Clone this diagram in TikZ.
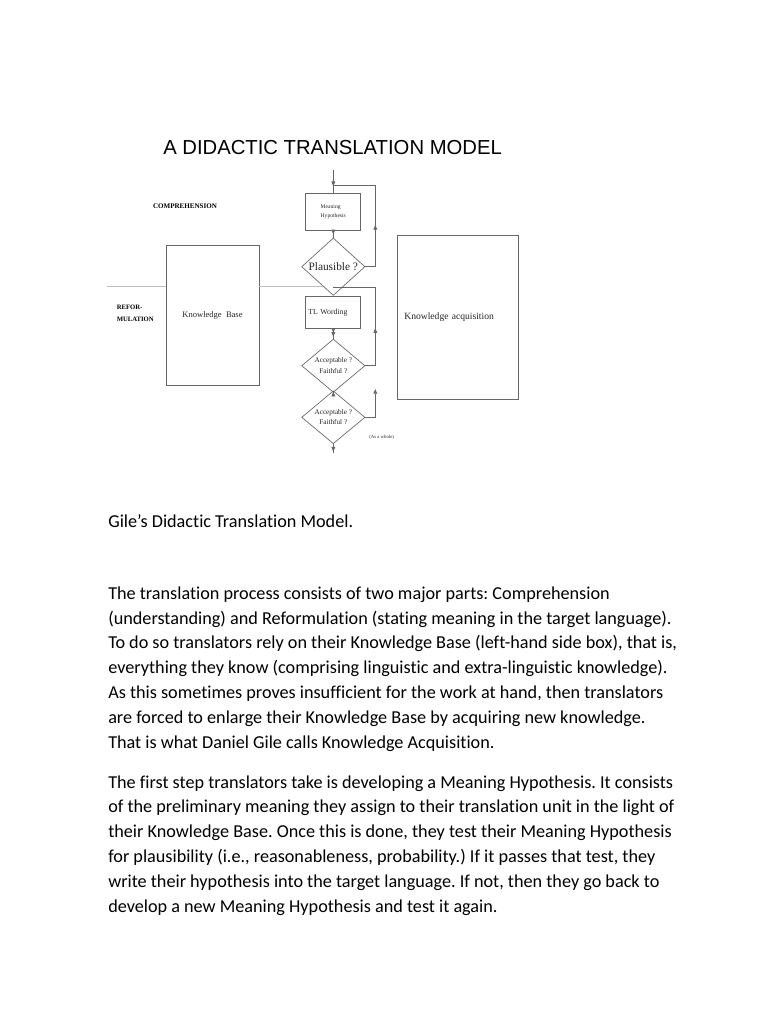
\documentclass[tikz,border=0pt]{standalone}
\usepackage{fontspec}
\setmainfont{Liberation Serif}
\newfontfamily\bodyfont[Ligatures=NoCommon]{Carlito}
\newfontfamily\headfont{Liberation Sans}
\usetikzlibrary{arrows.meta, positioning, shapes.geometric, decorations.markings}
\frenchspacing

\begin{document}
\begin{tikzpicture}[
    x=0.75pt, y=-0.75pt,
    >={Triangle[length=3.5pt, width=2.8pt]},
    wire/.style={draw=black!60, line width=0.5pt},
    tipat/.style={postaction={decorate, decoration={markings, mark=at position #1 with {\arrow{>}}}}},
    box/.style={rectangle, draw=black!60, line width=0.5pt, inner sep=1pt, text=black!85},
    test/.style={diamond, draw=black!60, line width=0.5pt, inner sep=0pt, minimum width=47.5pt, text=black!85, align=center},
    rule/.style={draw=black!25, line width=1pt},
    para/.style={font=\bodyfont\fontsize{13.65}{18.6}\selectfont, align=left, anchor=base west, inner sep=0pt},
]
    \fill[white] (0,0) rectangle (768,1024);
    \useasboundingbox (0,0) rectangle (768,1024);

    % title
    \node[anchor=base west, inner sep=0pt, font=\headfont\fontsize{15.2}{18}\selectfont] (title) at (163,154) {A DIDACTIC TRANSLATION MODEL};

    % the model
    \node[box, minimum width=69.75pt, minimum height=105pt, font=\fontsize{6.4}{8}\selectfont] (kb) at (212.5,315) {Knowledge\ \ Base};
    \node[box, inner xsep=5pt, text width=80.5pt, align=left, minimum height=123pt, font=\fontsize{7.2}{9}\selectfont] (ka) at (458,317) {Knowledge acquisition};
    \node[box, minimum width=41.25pt, minimum height=27.5pt, align=left, font=\fontsize{4.2}{6.5}\selectfont] (mh) at (333.3,211.7) {Meaning\\Hypothesis};
    \node[test, minimum height=27.5pt, font=\fontsize{8.5}{10}\selectfont] (pl) at (333.3,266.7) {Plausible ?};
    \node[box, inner xsep=2pt, text width=37.25pt, align=left, minimum height=24.2pt, font=\fontsize{5.8}{7}\selectfont] (tl) at (333.3,312.2) {TL Wording};
    \node[test, minimum height=31.3pt, font=\fontsize{5.4}{8}\selectfont] (ac) at (333.3,365.7) {Acceptable ?\\Faithful ?};
    \node[test, minimum height=26.8pt, font=\fontsize{5.4}{7.8}\selectfont] (aw) at (333.3,417.3) {Acceptable ?\\Faithful ?};
    \node[anchor=west, inner sep=0pt, text=black!85, font=\fontsize{3.6}{5}\selectfont] (whole) at (369,437) {(As a whole)};

    \node[inner sep=0pt, font=\bfseries\fontsize{5.3}{6}\selectfont] (comp) at (185,206) {COMPREHENSION};
    \node[anchor=west, inner sep=0pt, align=left, font=\bfseries\fontsize{5}{9}\selectfont] (refo) at (116.5,313.3) {REFOR-\\MULATION};

    \coordinate (in) at (333.3,170);
    \coordinate (j1) at (333.3,185);
    \coordinate (j2) at (333.3,287.3);
    \coordinate (out) at (333.3,453);
    \coordinate (r3) at (375.3,389);
    \coordinate (ruleL) at (106.7,286.7);
    \coordinate (ruleR) at (322.7,286.7);

    \draw[rule] (ruleL) -- (ruleL -| kb.west) (kb.east |- ruleR) -- (ruleR);

    \draw[wire, tipat=0.7] (in) -- (mh.north);
    \draw[wire, tipat=0.55] (mh.south) -- (pl.north);
    \draw[wire] (pl.south) -- (tl.north);
    \draw[wire, tipat=0.4, tipat=0.8] (tl.south) -- (ac.north);
    \draw[wire, tipat=0.45] (ac.south) -- (aw.north);
    \draw[wire, tipat=0.85] (aw.south) -- (out);

    \draw[wire, tipat=38.8pt] (pl.east) -| (j1 -| r3) -- (j1);
    \draw[wire, tipat=35.6pt] (ac.east) -| (j2 -| r3) -- (j2);
    \draw[wire, ->] (aw.east) -| (r3);

    % text below
    \node[para] (caption) at (108,527) {Gile’s Didactic Translation Model.};
    \node[para] (p1) at (108,748) {The translation process consists of two major parts: Comprehension\\
        (understanding) and Reformulation (stating meaning in the target language).\\
        To do so translators rely on their Knowledge Base (left-hand side box), that is,\\
        everything they know (comprising linguistic and extra-linguistic knowledge).\\
        As this sometimes proves insufficient for the work at hand, then translators\\
        are forced to enlarge their Knowledge Base by acquiring new knowledge.\\
        That is what Daniel Gile calls Knowledge Acquisition.};
    \node[para] (p2) at (108,912) {The first step translators take is developing a Meaning Hypothesis. It consists\\
        of the preliminary meaning they assign to their translation unit in the light of\\
        their Knowledge Base. Once this is done, they test their Meaning Hypothesis\\
        for plausibility (i.e., reasonableness, probability.) If it passes that test, they\\
        write their hypothesis into the target language. If not, then they go back to\\
        develop a new Meaning Hypothesis and test it again.};
\end{tikzpicture}
\end{document}
